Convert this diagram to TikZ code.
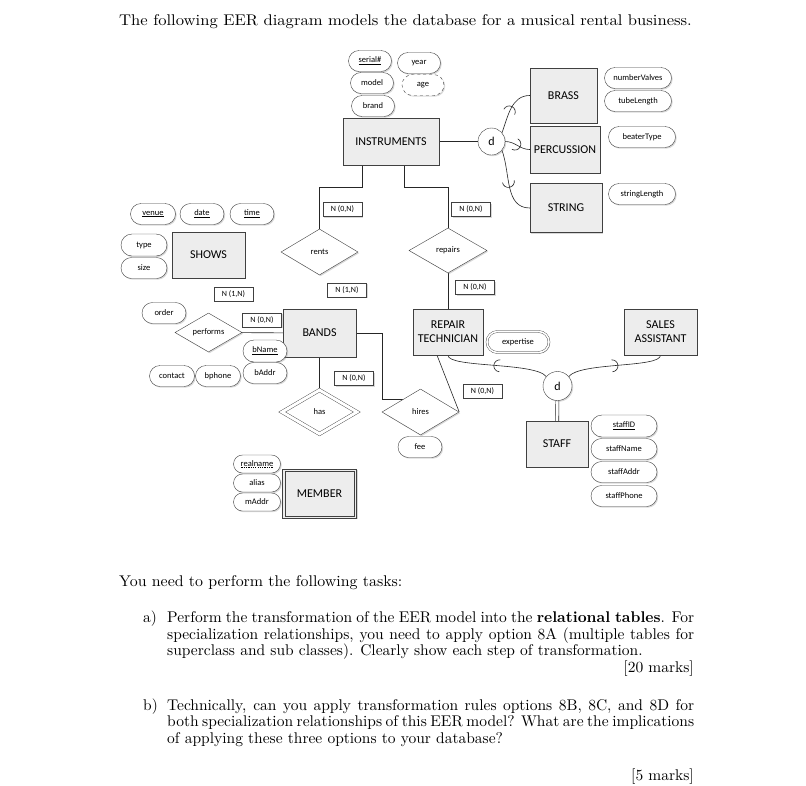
\documentclass[tikz,border=0pt]{standalone}
\usepackage{fontspec}
\usetikzlibrary{shapes.geometric,shapes.misc,shadows,decorations.markings,backgrounds}
\newfontfamily\calibri{Carlito}
\newfontfamily\titlefont{lmroman10-regular.otf}[FakeStretch=1.07]
\newfontfamily\leadfont{lmroman10-regular.otf}[FakeStretch=1.025]
\newfontfamily\parafont{lmroman10-regular.otf}[BoldFont=lmroman10-bold.otf]
% dashed underline for the partial key
\newcommand\dashkey[1]{\leavevmode\setbox0\hbox{#1}%
  \rlap{\raisebox{-1.4pt}{\hbox to\wd0{\xleaders\hbox to 2.2pt{\hss\rule{1.3pt}{0.4pt}\hss}\hfill}}}\box0}
% looks of the EER diagram
\tikzstyle{boxshadow}=[drop shadow={opacity=.3,shadow xshift=1.2pt,shadow yshift=-1.2pt}]
\tikzstyle{entity}=[rectangle,draw=black!75,fill=black!7,boxshadow,align=center,
  inner sep=1pt,font=\calibri\fontsize{12}{14}\selectfont]
\tikzstyle{attr}=[rounded rectangle,draw=black!75,fill=white,boxshadow,inner sep=1pt,
  minimum width=46pt,minimum height=21pt,font=\calibri\fontsize{8.5}{10}\selectfont]
\tikzstyle{relation}=[diamond,draw=black!75,fill=white,boxshadow,inner sep=0pt,
  minimum width=77pt,minimum height=46pt,font=\calibri\fontsize{8.5}{10}\selectfont]
\tikzstyle{card}=[rectangle,draw=black!75,fill=white,boxshadow,inner sep=1pt,
  minimum width=39pt,minimum height=14pt,font=\calibri\fontsize{8}{9}\selectfont]
\tikzstyle{disjoint}=[circle,draw=black!75,fill=white,boxshadow,inner sep=0pt,
  minimum size=27pt,font=\calibri\fontsize{12}{14}\selectfont]
\tikzstyle{link}=[draw=black!85,line width=.6pt]
\tikzstyle{total}=[link,double=white,double distance=2.5pt]
\tikzstyle{subset}=[link,postaction={decorate},decoration={markings,
  mark=at position .5 with {\draw[solid] (3pt,-6pt) arc (-90:-270:6pt);}}]
\tikzstyle{task}=[inner sep=0pt,font=\parafont\fontsize{15.5}{16.5}\selectfont]
\begin{document}
\begin{tikzpicture}[x=1pt,y=1pt]
  \useasboundingbox (0,0) rectangle (806,-785);
  % question text
  \node[task,anchor=base west,font=\titlefont\fontsize{15.5}{16.5}\selectfont] (intro) at (119,-25)
    {The following EER diagram models the database for a musical rental business.};
  \node[task,anchor=base west,font=\leadfont\fontsize{15.5}{16.5}\selectfont] (tasks) at (119,-586)
    {You need to perform the following tasks:};
  \node[task,anchor=base west] (qa) at (143,-622.5) {a)};
  \node[task,anchor=north west,text width=527pt,align=justify] (ta) at (167,-611.7)
    {Perform the transformation of the EER model into the \textbf{relational tables}. For\linebreak
     specialization relationships, you need to apply option 8A (multiple tables for\linebreak
     superclass and sub classes). Clearly show each step of transformation.};
  \node[task,anchor=base east] (marka) at (694,-672) {[20 marks]};
  \node[task,anchor=base west] (qb) at (143,-710) {b)};
  \node[task,anchor=north west,text width=527pt,align=justify] (tb) at (167,-699.2)
    {Technically, can you apply transformation rules options 8B, 8C, and 8D for\linebreak
     both specialization relationships of this EER model? What are the implications\linebreak
     of applying these three options to your database?};
  \node[task,anchor=base east] (markb) at (694,-780) {[5 marks]};

  % entities
  \node[entity,minimum width=96pt,minimum height=47pt] (inst) at (391,-141.5) {INSTRUMENTS};
  \node[entity,minimum width=67pt,minimum height=55pt] (brass) at (563.5,-95.5) {BRASS};
  \node[entity,minimum width=70pt,minimum height=47pt] (perc) at (565,-149.5) {PERCUSSION};
  \node[entity,minimum width=72pt,minimum height=49pt] (string) at (566,-208) {STRING};
  \node[entity,minimum width=73pt,minimum height=46pt] (shows) at (208.5,-255) {SHOWS};
  \node[entity,minimum width=73pt,minimum height=48pt] (bands) at (319.5,-333) {BANDS};
  \node[entity,minimum width=70pt,minimum height=46pt] (rt) at (448,-332) {REPAIR\\TECHNICIAN};
  \node[entity,minimum width=73pt,minimum height=46pt] (sa) at (660.5,-332) {SALES\\ASSISTANT};
  \node[entity,minimum width=62pt,minimum height=46pt] (staff) at (557,-444) {STAFF};
  \node[entity,minimum width=74pt,minimum height=49pt] (member) at (319.5,-493.5) {MEMBER};
  \draw[draw=black!75] ([shift={(2.5pt,2.5pt)}]member.south west)
    rectangle ([shift={(-2.5pt,-2.5pt)}]member.north east);

  % attributes
  \node[attr,minimum width=45pt] (serial) at (370,-61) {\underline{serial\#}};
  \node[attr,minimum width=45pt] (model) at (372,-83) {model};
  \node[attr,minimum width=45pt] (brand) at (373,-106) {brand};
  \node[attr,minimum width=45pt] (year) at (419,-63) {year};
  \node[attr,minimum width=44pt,dashed] (age) at (423,-85) {age};
  \node[attr,minimum width=69pt] (numval) at (638,-78) {numberValves};
  \node[attr,minimum width=69pt] (tubelen) at (638,-101) {tubeLength};
  \node[attr,minimum width=69pt] (beater) at (642,-137) {beaterType};
  \node[attr,minimum width=69pt] (strlen) at (642,-194) {stringLength};
  \node[attr,minimum width=47pt] (venue) at (153,-214) {\underline{venue}};
  \node[attr] (date) at (202,-214) {\underline{date}};
  \node[attr] (time) at (252,-214) {\underline{time}};
  \node[attr,minimum width=48pt,minimum height=22pt] (type) at (144,-245) {type};
  \node[attr,minimum width=48pt] (size) at (144,-268) {size};
  \node[attr] (order) at (164,-313) {order};
  \node[attr,minimum height=22pt] (bname) at (265,-351) {\underline{bName}};
  \node[attr] (baddr) at (265,-373) {bAddr};
  \node[attr,minimum width=47pt] (contact) at (172,-376) {contact};
  \node[attr,minimum width=47pt] (bphone) at (218,-376) {bphone};
  \node[attr,minimum width=64pt,double,double distance=1.6pt] (expertise) at (518,-342) {expertise};
  \node[attr] (fee) at (420,-447) {fee};
  \node[attr,minimum width=68pt,minimum height=22pt] (staffid) at (624,-426) {\underline{staffID}};
  \node[attr,minimum width=68pt] (staffname) at (624,-449) {staffName};
  \node[attr,minimum width=68pt] (staffaddr) at (624,-472) {staffAddr};
  \node[attr,minimum width=68pt] (staffphone) at (624,-496) {staffPhone};
  \node[attr,minimum width=49pt,minimum height=18pt] (realname) at (257,-464) {\dashkey{realname}};
  \node[attr,minimum width=49pt,minimum height=18pt] (alias) at (257,-483) {alias};
  \node[attr,minimum width=49pt,minimum height=18pt] (maddr) at (257,-502) {mAddr};

  % relationships
  \node[relation] (rents) at (319.5,-252) {rents};
  \node[relation,minimum width=78pt,minimum height=45pt] (repairs) at (448,-250.5) {repairs};
  \node[relation,minimum width=67pt,minimum height=39pt] (perf) at (208.5,-332.5) {performs};
  \node[relation] (hires) at (420.5,-412) {hires};
  \node[relation,double,double distance=3pt,minimum width=75pt,minimum height=44pt] (has)
    at (319.5,-412) {has};
  \node[disjoint] (dI) at (491.5,-141.5) {d};
  \node[disjoint,minimum size=29pt] (dS) at (557.5,-386) {d};

  % cardinalities
  \node[card] (cInstRents) at (342.5,-209.5) {N (0,N)};
  \node[card] (cInstRep) at (471,-209.5) {N (0,N)};
  \node[card] (cRentsBands) at (347,-290) {N (1,N)};
  \node[card] (cRepRt) at (475,-287.5) {N (0,N)};
  \node[card] (cShows) at (233.5,-294) {N (1,N)};
  \node[card] (cPerfBands) at (262,-320) {N (0,N)};
  \node[card] (cBandsHires) at (354,-378.5) {N (0,N)};
  \node[card] (cRtHires) at (482.5,-391) {N (0,N)};

  % connectors go behind the shapes
  \begin{scope}[on background layer]
    \fill[white] (0,0) rectangle (806,-785);
    \draw[link] (inst) -- (dI);
    \draw[subset] (brass.west) to[out=180,in=70] (dI.40);
    \draw[subset] (perc.west) to[out=180,in=0] (dI.east);
    \draw[subset] (string.west) to[out=180,in=-70] (dI.-40);
    \draw[link] ([xshift=19pt]inst.south west) -- ++(0,-22) -| (rents);
    \draw[link] ([xshift=-35pt]inst.south east) -- ++(0,-22) -| (repairs);
    \draw[total] (rents) -- (bands);
    \draw[link] (repairs) -- (rt);
    \draw[total] (shows) -- (perf);
    \draw[link] (perf) -- (bands);
    \draw[link] (bands) -- (has);
    \draw[total] (has) -- (member);
    \draw[link] (bands) -| ([yshift=13pt]hires.west) -- ([yshift=13pt]hires.center);
    \draw[link] ([xshift=-11pt]rt.south) -- (hires.east);
    \draw[subset] (rt.south) .. controls (448,-368) and (535,-362) .. (dS.140);
    \draw[subset] (sa.south) .. controls (660.5,-368) and (580,-362) .. (dS.40);
    \draw[total] (dS) -- (staff);
  \end{scope}
\end{tikzpicture}
\end{document}
